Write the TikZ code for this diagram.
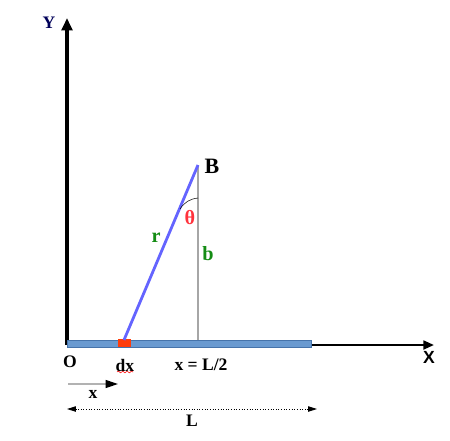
\documentclass[tikz,border=0pt]{standalone}
\usepackage{fontspec}
\setmainfont{Liberation Serif}
\newfontfamily\arialfont{Liberation Sans}
\usetikzlibrary{arrows.meta,decorations.pathmorphing}
\definecolor{rodblue}{RGB}{106,154,208}
\definecolor{rodedge}{RGB}{70,115,170}
\definecolor{rline}{RGB}{100,100,255}
\definecolor{pieceRed}{RGB}{255,60,10}
\definecolor{lblgreen}{RGB}{20,140,20}
\definecolor{lblred}{RGB}{255,50,60}
\tikzset{
  lbl/.style={font=\fontsize{10}{12}\selectfont\bfseries, inner sep=0pt},
  biglbl/.style={font=\fontsize{11.5}{13}\selectfont\bfseries, inner sep=0pt},
  axisline/.style={line width=1.8pt, -{Triangle[length=7pt,width=6pt]}},
}

\begin{document}
\begin{tikzpicture}[x=0.02cm,y=-0.02cm]
			%%%%% START %%%%%
			\useasboundingbox (0,0) rectangle (450,440);

			\coordinate (O) at (67,345);
			\coordinate (Ytip) at (67,18);
			\coordinate (Xtip) at (434,345);
			\coordinate (B) at (198,165);
			\coordinate (foot) at (198,340);
			\coordinate (dxpt) at (124,340);

			% axes
			\draw[axisline] (O) -- (Ytip);
			\draw[line width=1.3pt, -{Triangle[length=6pt,width=5pt]}] (O) -- (Xtip);
			\node[lbl, text=blue!35!black] (ylab) at (49,23) {Y};
			\node[font=\arialfont\fontsize{10}{12}\selectfont\bfseries, inner sep=0pt] (xlab) at (429,357) {X};

			% rod and element
			\draw[draw=rodedge, fill=rodblue, line width=0.4pt] (67,340) rectangle (311,347);
			\draw[draw=none, fill=pieceRed] (118,339) rectangle (131,347);

			% lines to B
			\draw[gray!70, line width=0.8pt] (B) -- (foot);
			\draw[rline, line width=1.6pt] (B) -- (dxpt);
			\draw[line width=0.3pt] (180,209) to[bend left=25] (198,198);

			\node[biglbl, font=\fontsize{12.5}{14}\selectfont\bfseries] (Blab) at (212,166) {B};
			\node[biglbl, text=lblred] (th) at (190,218) {θ};
			\node[biglbl, text=lblgreen] (rlab) at (156,238) {r};
			\node[biglbl, text=lblgreen] (blab) at (208,254) {b};

			% labels under the rod
			\node[lbl] (olab) at (70,362) {O};
			\node[lbl] (dxlab) at (125,365) {dx};
			\draw[red, line width=0.3pt, decorate, decoration={snake, amplitude=0.5pt, segment length=2.5pt}] (117,372) -- (133,372);
			\node[lbl] (half) at (201,365) {x = L/2};

			% small x arrow
			\coordinate (xs) at (68,384);
			\coordinate (xe) at (118,384);
			\draw[gray!60, line width=0.7pt, -{Triangle[length=7pt,width=4.5pt,black]}] (xs) -- (xe);
			\node[lbl] (xsmall) at (93,394) {x};

			% L dimension
			\coordinate (La) at (67,409);
			\coordinate (Lb) at (317,409);
			\draw[densely dotted, line width=0.5pt, {Triangle[length=5pt,width=3pt]}-{Triangle[length=5pt,width=3pt]}] (La) -- (Lb);
			\node[lbl] (Llab) at (192,421) {L};
			%%%%% END %%%%%
\end{tikzpicture}
\end{document}
